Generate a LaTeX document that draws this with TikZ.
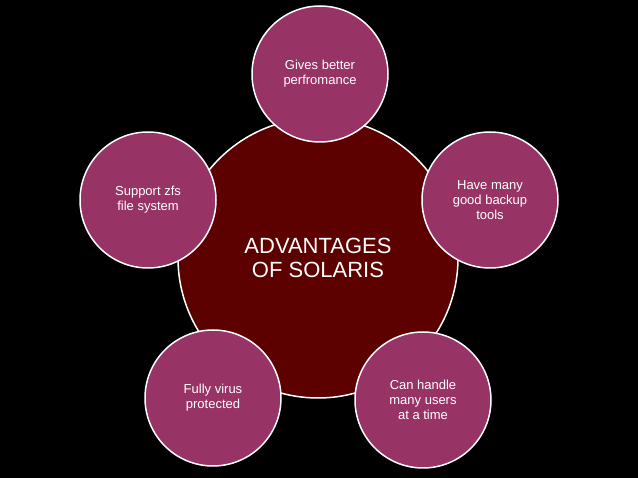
\documentclass[tikz,border=0pt]{standalone}
\usepackage{fontspec}
\setmainfont{Liberation Sans}
\definecolor{bigc}{HTML}{5C0000}
\definecolor{smallc}{HTML}{983366}
\begin{document}
\begin{tikzpicture}[x=1pt,y=-1pt,
  small/.style={circle,fill=smallc,draw=white,line width=1.5pt,minimum size=136pt,text=white,font=\fontsize{13}{15}\selectfont,align=center,inner sep=0pt}]
\fill[black] (0,0) rectangle (638,478);
\useasboundingbox (0,0) rectangle (638,478);
\node[circle,fill=bigc,draw=white,line width=1.5pt,minimum size=280pt,text=white,font=\fontsize{22}{24}\selectfont,align=center] (c) at (318,258) {ADVANTAGES\\OF SOLARIS};
\node[small] (t) at (320,74) {Gives better\\perfromance};
\node[small] (r) at (490,200) {Have many\\good backup\\tools};
\node[small] (l) at (148,200) {Support zfs\\file system};
\node[small] (bl) at (213,398) {Fully virus\\protected};
\node[small] (br) at (423,400) {Can handle\\many users\\at a time};
\end{tikzpicture}
\end{document}
